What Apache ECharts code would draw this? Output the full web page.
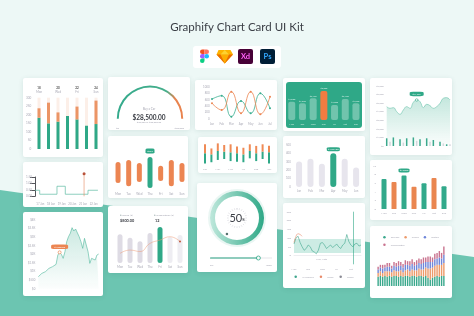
<!DOCTYPE html>
<html><head><meta charset="utf-8">
<script src="https://cdn.jsdelivr.net/npm/echarts@6.0.0/dist/echarts.min.js"></script>
<style>
html,body{margin:0;padding:0;width:474px;height:316px;overflow:hidden;background:#edf8f6}
.c{position:absolute}
</style></head><body>
<script>
// ================= DATA =================
const titleText = 'Graphify Chart Card UI Kit';
// A: stacked bars
const aDates = ['18','19','20','21','22','23','24'];
const aDays = ['Mon','Tue','Wed','Thu','Fri','Sat','Sun'];
const aTeal = [183,150,160,193,173,136,146];
const aOrange = [55,121,54,0,75,0,137];
// B: step line
const bLabels = ['17 Jan','18 Jan','19 Jan','20 Jan','21 Jan','22 Jan'];
const bStep = [[0,0.47],[0.44,0.16],[2.06,0.78],[2.84,0.16],[4.97,0.47],[5.9,0.47]];
const bMarker = [[4.6,0],[4.6,1.76]];
// C: area
const cVals = [699,738,893,835,990,1087,1184,1146,1282,1184,1417,1961,2117,2000,1767,2155,2738,3029,3223,3553,3359,3476,3417,3029,2738,2350,2932,2971,2155,1476,1767,1864,1670,1961,2019];
const cTip = '$1,000.00', cTipIndex = 12;
// D: gauge
const dTitle = 'Buy a Car', dValue = '$28,500.00', dSub = '$28,500 of $30,000.00', dMin = '$0', dMax = '$30,000';
const dAmount = 28500, dTarget = 30000;
// E: range bars
const eDays = ['Mon','Tue','Wed','Thu','Fri','Sat','Sun'];
const eLow = [20,11,23,6,26,11,23];
const eHigh = [80,86,77,94,69,86,77];
const eHi = 3, eTip = '$657';
// F: bars + line
const fDays = ['Mon','Tue','Wed','Thu','Fri','Sat','Sun'];
const fBars = [78,68,59,81,97,70,76];
const fLine = [26,35,31,53,62,71,58];
const fHi = 4;
const fLegend = ['Spend ($)','Transactions (#)'], fValues = ['$800.00','12'];
// G: two lines
const gMonths = ['Jan','Feb','Mar','Apr','May','Jun','Jul'];
const gTeal = [619,722,72,557,175,794,330];
const gOrange = [485,278,845,175,845,144,691];
// H: split bars
const hMonths = ['Jan','Feb','Mar','Apr','May','Jun','Jul','Aug','Sep','Oct','Nov'];
const hBase = [7,12,22,26,17,14,12,29,17,26,7];
const hTeal = [44,34,39,32,38,37,34,32,34,32,48];
const hOrange = [39,26,33,29,35,29,29,29,32,32,29];
// I: dial
const iValue = 50, iUnit = '%', iSlider = 78, iDot = [[19,212]];
const iSliderLabels = ['0%','100%'];
// J: teal card bars
const jDays = ['Mon','Tue','Wed','Thu','Fri','Sat','Sun'];
const jVals = [1830,1670,2170,2900,1500,2100,1670];
const jHi = 3;
// K: bars
const kMonths = ['Jan','Feb','Mar','Apr','May','Jun'];
const kVals = [303,335,276,402,335,232];
const kHi = 3, kTip = '$1,234.00';
// L: line with band
const lDays = ['Mon','Tue','Wed','Thu','Fri','Sat'];
const lTeal = [66,100,110,74,50,30,40,60,50,26,20,10,30,70,74,60,40,50,60,46,54,66,50,40,60,70,120,80,60,50,66,70,54,60];
const lOrange = [74,110,124,120,110];
const lBand = [14,94], lMarkIndex = 29, lCaption = 'Mon, 10th';
const lLegend = ['All Senders','Single','Group'];
// M: area + bars
const mVals = [4591,4397,4475,4008,3696,4202,4591,4397,5097,5370,5175,4475,4864,4708,4397,4591,4981,5564,5642,5370];
const mBars = [900,500,1000,0,800,400,900,0,1000,600,800,0,900,500,700,0,500,300,200,200];
const mTipIndex = 9, mTip = '$11,234';
// N: bars
const nDays = ['Mon','Tue','Wed','Thu','Fri','Sat','Sun'];
const nVals = [7.0,6.3,7.8,5.2,6.0,7.2,5.3];
const nHi = 2, nTip = '$13,000';
// O: stacked
const oNames = ['Services','Goods','Rentals','Commodities'];
const oTeal =   [10,11,10,11,10,11,10,11,11,10,11,10,11,11,10,11,11,10,11,11,10,11,9,7,9,10,11,10,11,11];
const oOrange = [4,5,4,5,6,5,5,6,5,6,6,5,6,7,6,7,6,7,8,7,8,9,10,12,11,12,12,13,12,14];
const oBlue =   [4,4,5,4,5,5,4,5,5,6,5,5,6,5,6,6,5,6,6,6,7,6,7,7,6,7,7,8,7,9];
const oPink =   [3,3,4,3,4,4,3,4,4,5,4,4,5,4,5,5,4,5,5,5,6,5,6,6,5,6,6,7,6,9];

// ================= HELPERS =================
const F = 'Lato, "Noto Sans", sans-serif';
const GREY = '#a9a9b5', DARK = '#3a3d44';
const TEAL = '#2fa887', ORANGE = '#ec8552';
function mk(x,y,w,h){const d=document.createElement('div');d.className='c';d.style.left=x+'px';d.style.top=y+'px';d.style.width=w+'px';d.style.height=h+'px';document.body.appendChild(d);return echarts.init(d);}
function t(size,color,extra){return Object.assign({fontSize:size,color:color||GREY,fontFamily:F},extra||{});}
function cat(data,extra){return Object.assign({type:'category',data:data,axisLine:{show:false},axisTick:{show:false},axisLabel:t(3,GREY,{margin:3})},extra||{});}
function tipPoint(coord,text,color,size,off){return {coord:coord,symbol:'roundRect',symbolSize:size,symbolOffset:[0,off],itemStyle:{color:color},label:{show:true,formatter:text,color:'#fff',fontSize:2.4,fontFamily:F}};}
const plain = v => String(v);

// ================= BACKGROUND =================
const bg = mk(0,0,474,316);
const cards = [[23,78,80,79],[23,162,80,45],[23,212,80,84],[108,77,82,53],[108,136,80,62],[108,206,80,67],
  [195,80,82,50],[198,137,79,36],[197,183,80,89],[283,78,82,53],[283,136,82,62],[283,203,82,85],
  [370,78,82,77],[370,160,82,60],[370,226,82,72]];
const gfx = [
  {type:'rect',shape:{x:0,y:0,width:474,height:316},style:{fill:'#edf8f6'}},
  {type:'polygon',shape:{points:[[0,190],[474,257],[474,316],[0,316]]},style:{fill:'#6cc5b1'}},
  {type:'text',x:237,y:27,style:{text:titleText,fontSize:11.5,fontFamily:F,fill:'#3b3f46',align:'center',verticalAlign:'middle'}},
  {type:'rect',shape:{x:193,y:46,width:88,height:22,r:3},style:{fill:'#ffffff'}},
  {type:'rect',shape:{x:200,y:49.5,width:4.5,height:4.5,r:[2.25,0,0,2.25]},style:{fill:'#f24e1e'}},
  {type:'rect',shape:{x:204.5,y:49.5,width:4.5,height:4.5,r:[0,2.25,2.25,0]},style:{fill:'#ff7262'}},
  {type:'rect',shape:{x:200,y:54,width:4.5,height:4.5,r:[2.25,0,0,2.25]},style:{fill:'#a259ff'}},
  {type:'circle',shape:{cx:206.75,cy:56.25,r:2.25},style:{fill:'#1abcfe'}},
  {type:'rect',shape:{x:200,y:58.5,width:4.5,height:4.5,r:[2.25,0,2.25,2.25]},style:{fill:'#0acf83'}},
  {type:'polygon',shape:{points:[[218.5,50],[230.5,50],[233,54.5],[224.75,63.5],[216.5,54.5]]},style:{fill:'#fdb300'}},
  {type:'polygon',shape:{points:[[216.5,54.5],[233,54.5],[224.75,63.5]]},style:{fill:'#ea6c00'}},
  {type:'polygon',shape:{points:[[220.5,54.5],[229,54.5],[224.75,63.5]]},style:{fill:'#fdad00'}},
  {type:'polygon',shape:{points:[[220.5,54.5],[229,54.5],[224.75,50]]},style:{fill:'#fdd231'}},
  {type:'rect',shape:{x:238,y:49,width:15,height:15,r:2},style:{fill:'#470137'}},
  {type:'text',x:245.5,y:56.8,style:{text:'Xd',fontSize:7.5,fontWeight:'bold',fontFamily:F,fill:'#ff61f6',align:'center',verticalAlign:'middle'}},
  {type:'rect',shape:{x:260,y:49,width:15,height:15,r:2},style:{fill:'#001e36'}},
  {type:'text',x:267.5,y:56.8,style:{text:'Ps',fontSize:7.5,fontWeight:'bold',fontFamily:F,fill:'#31a8ff',align:'center',verticalAlign:'middle'}}
];
cards.forEach(c=>gfx.push({type:'rect',shape:{x:c[0],y:c[1],width:c[2],height:c[3],r:2},style:{fill:'#ffffff',shadowBlur:5,shadowColor:'rgba(30,90,80,0.12)',shadowOffsetY:1}}));
gfx.push({type:'rect',shape:{x:286,y:82,width:76,height:46,r:3},style:{fill:'#2fa887'}});
bg.setOption({animation:false,graphic:gfx});

// ================= A =================
mk(23,78,80,79).setOption({animation:false,
  grid:{left:11.25,right:2.25,top:19.7,bottom:8},
  xAxis:cat(aDays,{position:'top',axisLabel:{margin:4,fontSize:3,lineHeight:3.8,formatter:(v,i)=>'{d|'+aDates[i]+'}\n{w|'+v+'}',
    rich:{d:t(3,'#555',{lineHeight:3.8,fontWeight:'bold'}),w:t(3,GREY,{lineHeight:3.8})}}}),
  yAxis:{type:'value',min:0,max:300,interval:50,splitLine:{show:false},axisLabel:t(3,GREY,{margin:3,formatter:plain})},
  series:[{type:'bar',stack:'s',data:aTeal,barWidth:3,itemStyle:{color:TEAL},showBackground:true,backgroundStyle:{color:'#fcefe8'}},
          {type:'bar',stack:'s',data:aOrange,barWidth:3,itemStyle:{color:'#eb9566'}}]
});
// ================= B =================
mk(23,162,80,45).setOption({animation:false,
  grid:{left:12,right:4,top:15,bottom:10.7},
  xAxis:[cat(bLabels,{axisLabel:t(2.8,GREY,{margin:6.5})}),{type:'value',min:0,max:6,show:false}],
  yAxis:{type:'value',min:0,max:1.5,interval:0.5,splitLine:{show:false},axisLabel:t(3,GREY,{margin:3,formatter:v=>v.toFixed(2)})},
  series:[{type:'line',xAxisIndex:1,step:'end',data:bStep,symbol:'none',lineStyle:{color:'#5fbba4',width:0.7}},
          {type:'line',xAxisIndex:1,data:bMarker,clip:false,symbol:'circle',symbolSize:(v,p)=>p.dataIndex===1?3:0,
           lineStyle:{color:'#e58a5f',width:0.6},itemStyle:{color:'#b9523a'}}]
});
// ================= C =================
mk(23,212,80,84).setOption({animation:false,
  grid:{left:15.3,right:4.3,top:8,bottom:7.3},
  xAxis:{type:'category',boundaryGap:false,data:cVals.map((v,i)=>i),show:false},
  yAxis:{type:'value',min:0,max:4000,interval:500,splitLine:{show:false},
    axisLabel:t(2.8,GREY,{margin:3,formatter:v=>v===0?'$0':(v<1000?'$'+v:'$'+(v/1000)+'K')})},
  series:[{type:'line',data:cVals,symbol:'none',lineStyle:{color:'#4fb79c',width:0.6},
    areaStyle:{color:new echarts.graphic.LinearGradient(0,0,0,1,[{offset:0,color:'rgba(47,168,135,0.35)'},{offset:1,color:'rgba(47,168,135,0.02)'}])},
    markPoint:{data:[tipPoint([cTipIndex,cVals[cTipIndex]],cTip,'#ec8552',[17,4.5],-5.5),
      {coord:[cTipIndex,cVals[cTipIndex]],symbol:'circle',symbolSize:3,itemStyle:{color:'#fff',borderColor:'#ec8552',borderWidth:0.7},label:{show:false}}]}}]
});
// ================= D =================
mk(108,77,82,53).setOption({animation:false,
  title:[{text:dTitle,left:'center',top:30.8,padding:0,textStyle:t(3,GREY,{fontWeight:'normal'})},
         {text:dValue,left:'center',top:37.3,padding:0,textStyle:t(6.5,DARK,{fontWeight:'bold'})},
         {text:dSub,left:'center',top:44.2,padding:0,textStyle:t(2.4,GREY,{fontWeight:'normal'})},
         {text:dMin,left:8,top:49.3,padding:0,textStyle:t(2.6,GREY,{fontWeight:'normal'})},
         {text:dMax,right:6,top:49.3,padding:0,textStyle:t(2.6,GREY,{fontWeight:'normal'})}],
  series:[{type:'gauge',center:[42,41.8],radius:33.2,startAngle:180,endAngle:0,min:0,max:dTarget,
    axisLine:{lineStyle:{width:2,color:[[1,new echarts.graphic.LinearGradient(0,0,1,0,[{offset:0,color:'#34aa8c'},{offset:0.75,color:'#46ae8b'},{offset:0.88,color:'#e9834e'},{offset:1,color:'#e9834e'}])]]}},
    axisTick:{show:false},splitLine:{show:false},axisLabel:{show:false},pointer:{show:false},title:{show:false},detail:{show:false},
    data:[{value:dAmount}]}]
});
// ================= E =================
mk(108,136,80,62).setOption({animation:false,
  grid:{left:4.7,right:0.7,top:19,bottom:8},
  xAxis:cat(eDays),
  yAxis:{type:'value',min:0,max:100,show:false},
  series:[{type:'bar',stack:'r',data:eLow,barWidth:5,itemStyle:{color:'rgba(0,0,0,0)'}},
    {type:'bar',stack:'r',data:eHigh.map((h,i)=>h-eLow[i]),barWidth:5,
     itemStyle:{borderRadius:2.5,color:p=>p.dataIndex===eHi?TEAL:ORANGE},
     markPoint:{data:[{xAxis:eHi,yAxis:eHigh[eHi],symbol:'roundRect',symbolSize:[9,5],symbolOffset:[0,-6],itemStyle:{color:TEAL},label:{show:true,formatter:eTip,color:'#fff',fontSize:2.4,fontFamily:F}}]}}]
});
// ================= F =================
mk(108,206,80,67).setOption({animation:false,
  title:[{text:'{dot|●} '+fLegend[0],left:12,top:7.5,padding:0,textStyle:t(2.6,GREY,{fontWeight:'normal',rich:{dot:t(2.6,'#9aa')}})},
         {text:'{dot|●} '+fLegend[1],left:46,top:7.5,padding:0,textStyle:t(2.6,GREY,{fontWeight:'normal',rich:{dot:t(2.6,'#9aa')}})},
         {text:fValues[0],left:12,top:13,padding:0,textStyle:t(3.8,DARK,{fontWeight:'bold'})},
         {text:fValues[1],left:47,top:13,padding:0,textStyle:t(3.8,DARK,{fontWeight:'bold'})}],
  grid:{left:7,right:3,top:20,bottom:10},
  xAxis:cat(fDays),
  yAxis:{type:'value',min:0,max:100,show:false},
  series:[{type:'bar',data:fBars,barWidth:5,itemStyle:{borderRadius:2.5,color:p=>p.dataIndex===fHi?TEAL:(p.dataIndex>fHi?'#eeedf2':'#dedbe4')}},
    {type:'line',data:fLine,smooth:true,symbol:'circle',symbolSize:(v,p)=>p.dataIndex===fLine.length-1?2:0,
     lineStyle:{color:'#ec9a77',width:0.5},itemStyle:{color:'#c0563a'}}]
});
// ================= G =================
mk(195,80,82,50).setOption({animation:false,
  grid:{left:17,right:7,top:6.7,bottom:11},
  xAxis:cat(gMonths,{boundaryGap:false,axisLabel:t(2.8,GREY,{margin:4})}),
  yAxis:{type:'value',min:0,max:1000,interval:200,splitLine:{show:false},axisLabel:t(2.8,GREY,{margin:2.5,formatter:plain})},
  series:[{type:'line',data:gTeal,smooth:0.5,symbol:'circle',symbolSize:2,lineStyle:{color:'#3aae90',width:0.8},itemStyle:{color:'#3aae90'}},
          {type:'line',data:gOrange,smooth:0.5,symbol:'circle',symbolSize:2,lineStyle:{color:'#ec8552',width:0.8},itemStyle:{color:'#ec8552'}}]
});
// ================= H =================
mk(198,137,79,36).setOption({animation:false,
  grid:{left:3.8,right:4.8,top:5,bottom:8},
  xAxis:cat(hMonths,{axisLabel:t(2.6,GREY,{margin:3,interval:1})}),
  yAxis:{type:'value',min:0,max:100,show:false},
  series:[{type:'bar',stack:'h',data:hBase,barWidth:2,itemStyle:{color:'rgba(0,0,0,0)'}},
          {type:'bar',stack:'h',data:hTeal,barWidth:2,itemStyle:{color:'#2fa887'}},
          {type:'bar',stack:'h',data:hOrange,barWidth:2,itemStyle:{color:'#ef8a55'}}]
});
// ================= I =================
mk(197,183,80,89).setOption({animation:false,
  polar:{center:[40,35],radius:27},
  angleAxis:{type:'value',min:0,max:360,startAngle:90,show:false},
  radiusAxis:{type:'value',min:0,max:27,show:false},
  grid:{left:13,right:5,top:74.4,height:1.2},
  xAxis:{type:'value',min:0,max:100,interval:100,splitLine:{show:false},axisLine:{show:false},axisTick:{show:false},
    axisLabel:t(2.6,GREY,{margin:5.5,formatter:v=>v===0?iSliderLabels[0]:iSliderLabels[1],alignMinLabel:'left',alignMaxLabel:'right'})},
  yAxis:{type:'category',data:['s'],show:false},
  series:[
    {type:'gauge',center:[40,35],radius:29,startAngle:90,endAngle:-270,axisLine:{lineStyle:{width:2,color:[[1,'rgba(47,168,135,0.10)']]}},
     axisTick:{show:false},splitLine:{show:false},axisLabel:{show:false},pointer:{show:false},detail:{show:false},title:{show:false},data:[{value:0}]},
    {type:'gauge',center:[40,35],radius:27,startAngle:90,endAngle:-270,
     axisLine:{lineStyle:{width:5,color:[[1,new echarts.graphic.LinearGradient(0,0,1,0,[{offset:0,color:'#bfe8dc'},{offset:1,color:'#2fa887'}])]]}},
     axisTick:{show:false},splitLine:{show:false},axisLabel:{show:false},pointer:{show:false},title:{show:false},
     detail:{show:true,offsetCenter:[0,0],formatter:'{a|{value}}{b|'+iUnit+'}',rich:{a:t(11,DARK,{fontWeight:'normal'}),b:t(3,DARK,{padding:[4,0,0,0]})}},
     data:[{value:iValue}]},
    {type:'gauge',center:[40,35],radius:20,startAngle:90,endAngle:-270,splitNumber:24,
     axisLine:{show:false},axisTick:{show:false},splitLine:{show:true,distance:0,length:1.6,lineStyle:{color:'#c9c9d1',width:0.5}},
     axisLabel:{show:false},pointer:{show:false},title:{show:false},detail:{show:false},data:[{value:0}]},
    {type:'scatter',coordinateSystem:'polar',data:iDot,symbolSize:2.5,itemStyle:{color:'#2b4f4a'}},
    {type:'bar',data:[iSlider],barWidth:1.2,itemStyle:{color:TEAL,borderRadius:0.6},showBackground:true,backgroundStyle:{color:'#e6e6ea'}},
    {type:'scatter',data:[[iSlider,'s']],symbolSize:4,itemStyle:{color:'#fff',borderColor:TEAL,borderWidth:1}}
  ]
});
// ================= J =================
mk(283,78,82,53).setOption({animation:false,
  grid:{left:3.4,right:3.7,top:12,bottom:11},
  xAxis:cat(jDays,{axisLabel:t(2.4,'rgba(255,255,255,0.75)',{margin:3})}),
  yAxis:{type:'value',min:0,max:3000,show:false},
  series:[{type:'bar',data:jVals,barWidth:7,
    itemStyle:{borderRadius:2,color:p=>p.dataIndex===jHi?'#f07c42':'rgba(255,255,255,0.32)'},
    label:{show:true,position:'top',distance:1.5,formatter:p=>'$'+p.value.toLocaleString('en-US'),fontSize:2.2,color:'rgba(255,255,255,0.85)',fontFamily:F}}]
});
// ================= K =================
mk(283,136,82,62).setOption({animation:false,
  grid:{left:9.2,right:3.2,top:9,bottom:11},
  xAxis:cat(kMonths,{axisLabel:t(2.8,GREY,{margin:3})}),
  yAxis:{type:'value',min:0,max:500,interval:100,splitLine:{show:false},axisLabel:t(2.8,GREY,{margin:2.5})},
  series:[{type:'bar',data:kVals,barWidth:6,itemStyle:{borderRadius:3,color:p=>p.dataIndex===kHi?TEAL:'#e7e5ed'},
    markPoint:{data:[{xAxis:kHi,yAxis:kVals[kHi],symbol:'roundRect',symbolSize:[13,4],symbolOffset:[0,-4],itemStyle:{color:TEAL},label:{show:true,formatter:kTip,color:'#fff',fontSize:2.3,fontFamily:F}}]}}]
});
// ================= L =================
mk(283,203,82,85).setOption({animation:false,
  title:{text:lCaption,left:33,top:55,padding:0,textStyle:t(2.4,GREY,{fontWeight:'normal'})},
  legend:{data:lLegend,bottom:5,icon:'circle',itemWidth:2.5,itemHeight:2.5,itemGap:6,textStyle:t(2.4,GREY)},
  grid:{left:11,right:4,top:8.7,bottom:23.7},
  xAxis:[{type:'category',boundaryGap:false,data:lTeal.map((v,i)=>i),axisTick:{show:false},axisLine:{lineStyle:{color:'#dcdce2',width:0.5}},
     axisLabel:t(2.4,GREY,{margin:3.5,interval:6,formatter:(v,i)=>lDays[Math.round(i/6)]||''})}],
  yAxis:{type:'value',min:-50,max:250,interval:50,splitLine:{show:false},axisLabel:t(2.6,GREY,{margin:3,formatter:v=>v<0?'':v})},
  series:[{name:lLegend[0],type:'line',data:lTeal,symbol:'none',lineStyle:{color:'#3fa68d',width:0.6},itemStyle:{color:'#3fa68d'},
     markArea:{silent:true,itemStyle:{color:'rgba(111,201,178,0.35)'},data:[[{yAxis:lBand[0]},{yAxis:lBand[1]}]]},
     markLine:{silent:true,symbol:['none','circle'],symbolSize:[0,6],label:{show:false},lineStyle:{color:TEAL,width:0.6,type:'solid'},
       data:[[{coord:[lMarkIndex,-50]},{coord:[lMarkIndex,250]}]]}},
    {name:lLegend[1],type:'line',data:lOrange,symbol:'none',smooth:true,lineStyle:{color:'#e88a6a',width:0.6},itemStyle:{color:'#e88a6a'}},
    {name:lLegend[2],type:'line',data:[],symbol:'none',itemStyle:{color:'#8b8b95'}}]
});
// ================= M =================
mk(370,78,82,77).setOption({animation:false,
  grid:{left:16.7,right:2,top:8,bottom:9},
  xAxis:{type:'category',boundaryGap:false,data:mVals.map((v,i)=>i),show:false},
  yAxis:{type:'value',min:0,max:7000,interval:1000,splitLine:{show:false},axisLabel:t(2.4,GREY,{margin:3,formatter:v=>'$'+v.toLocaleString('en-US')})},
  series:[{type:'line',data:mVals,smooth:true,symbol:'none',lineStyle:{color:'#6ac3ab',width:0.6},
    areaStyle:{color:new echarts.graphic.LinearGradient(0,0,0,1,[{offset:0,color:'rgba(70,180,150,0.45)'},{offset:1,color:'rgba(70,180,150,0.03)'}])},
    markPoint:{data:[{coord:[mTipIndex,mVals[mTipIndex]],symbol:'roundRect',symbolSize:[14,4.5],symbolOffset:[0,-6],itemStyle:{color:TEAL},label:{show:true,formatter:mTip,color:'#fff',fontSize:2.3,fontFamily:F}},
      {coord:[mTipIndex,mVals[mTipIndex]],symbol:'circle',symbolSize:2.5,itemStyle:{color:'#fff',borderColor:TEAL,borderWidth:0.6},label:{show:false}}]}},
    {type:'bar',data:mBars,barWidth:1.5,itemStyle:{color:p=>p.dataIndex%2===0?'#3aa88c':'#d9d9e0'}}]
});
// ================= N =================
mk(370,160,82,60).setOption({animation:false,
  grid:{left:9,right:3,top:6,bottom:11},
  xAxis:cat(nDays,{axisLabel:t(2.6,GREY,{margin:3})}),
  yAxis:{type:'value',min:0,max:10,interval:2,splitLine:{show:false},axisLabel:t(2.6,GREY,{margin:3})},
  series:[{type:'bar',data:nVals,barWidth:5,itemStyle:{borderRadius:[1,1,0,0],color:p=>p.dataIndex%2===0?'#32a98b':'#ea8650'},
    markPoint:{data:[{xAxis:nHi,yAxis:nVals[nHi],symbol:'roundRect',symbolSize:[11,4],symbolOffset:[0,-5],itemStyle:{color:TEAL},label:{show:true,formatter:nTip,color:'#fff',fontSize:2.3,fontFamily:F}}]}}]
});
// ================= O =================
mk(370,226,82,72).setOption({animation:false,
  legend:{data:oNames,top:5,left:'center',icon:'circle',itemWidth:2.5,itemHeight:2.5,itemGap:5,textStyle:t(2.4,GREY)},
  grid:{left:7,right:7,top:14,bottom:12},
  xAxis:{type:'category',data:oTeal.map((v,i)=>i),show:false},
  yAxis:{type:'value',min:0,max:50,show:false},
  series:[{name:oNames[0],type:'bar',stack:'o',data:oTeal,barWidth:1.4,itemStyle:{color:'#3aa88c'}},
          {name:oNames[1],type:'bar',stack:'o',data:oOrange,barWidth:1.4,itemStyle:{color:'#ec9a6b'}},
          {name:oNames[2],type:'bar',stack:'o',data:oBlue,barWidth:1.4,itemStyle:{color:'#6f86d9'}},
          {name:oNames[3],type:'bar',stack:'o',data:oPink,barWidth:1.4,itemStyle:{color:'#c9738f'}}]
});
</script>
</body></html>
